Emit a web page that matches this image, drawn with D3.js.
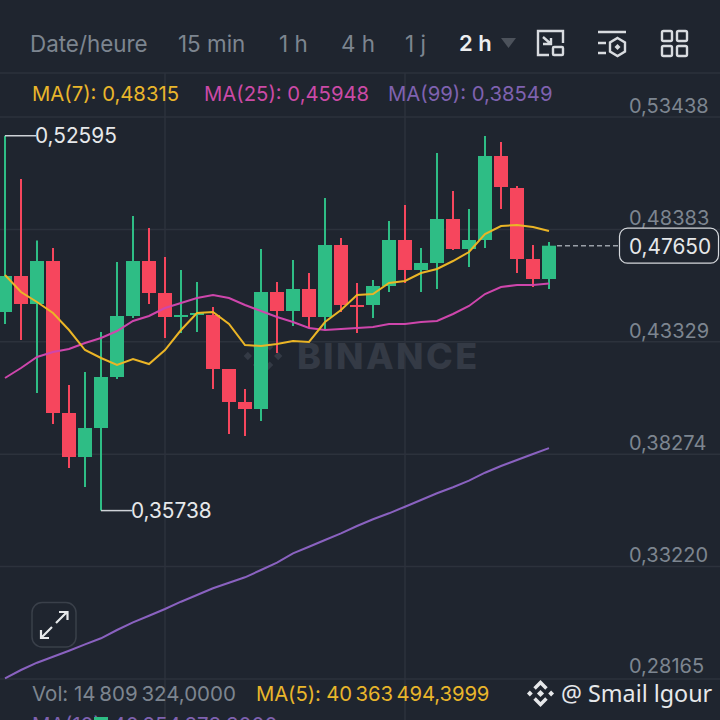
<!DOCTYPE html>
<html>
<head>
<meta charset="utf-8">
<script src="https://cdn.jsdelivr.net/npm/d3@7"></script>
<style>
html, body { margin: 0; padding: 0; background: #1f252f; }
svg { display: block; font-family: Inter, "Noto Sans", sans-serif; }
</style>
</head>
<body>
<div id="chart"></div>
<script>
//candle values, oldest first
var opens = [0.44669, 0.46288, 0.45029, 0.46962, 0.40127, 0.38148, 0.39452, 0.41746, 0.44489, 0.46962, 0.45523, 0.44444, 0.44534, 0.44534, 0.42106, 0.40622, 0.40307, 0.45568, 0.44714, 0.45703, 0.44444, 0.47682, 0.44984, 0.44984, 0.45838, 0.47907, 0.46558, 0.46872, 0.48851, 0.47502, 0.47907, 0.51684, 0.50245, 0.47052, 0.46153];
var closes = [0.46288, 0.45029, 0.46962, 0.40127, 0.38148, 0.39452, 0.41746, 0.44489, 0.46962, 0.45523, 0.44444, 0.44534, 0.44624, 0.42106, 0.40622, 0.40307, 0.45568, 0.44714, 0.45703, 0.44444, 0.47682, 0.44984, 0.44894, 0.45838, 0.47907, 0.46558, 0.46872, 0.48851, 0.47502, 0.47907, 0.51684, 0.50290, 0.47052, 0.46153, 0.47650];
var highs = [0.52595, 0.50650, 0.47884, 0.47547, 0.41386, 0.41971, 0.43769, 0.46917, 0.48986, 0.48446, 0.47142, 0.46558, 0.46018, 0.44894, 0.42106, 0.41206, 0.47502, 0.46018, 0.47007, 0.46423, 0.49795, 0.47997, 0.45973, 0.46108, 0.48761, 0.49481, 0.47547, 0.51819, 0.50110, 0.49301, 0.52584, 0.52314, 0.50335, 0.47682, 0.47817];
var lows = [0.44129, 0.43410, 0.41026, 0.39632, 0.37654, 0.36799, 0.35738, 0.41656, 0.44399, 0.45029, 0.43500, 0.43724, 0.43769, 0.41206, 0.39183, 0.39093, 0.39767, 0.42825, 0.44039, 0.43949, 0.43859, 0.44669, 0.43724, 0.44399, 0.45568, 0.45973, 0.45568, 0.45703, 0.47457, 0.46692, 0.47547, 0.49301, 0.46423, 0.45793, 0.45703];

//moving averages
var ma7 = [0.46333, 0.45568, 0.45119, 0.44624, 0.43859, 0.42960, 0.42600, 0.42285, 0.42555, 0.42330, 0.42960, 0.43859, 0.44624, 0.44669, 0.44129, 0.43185, 0.43140, 0.43230, 0.43365, 0.43320, 0.44219, 0.44759, 0.45433, 0.45478, 0.45973, 0.46063, 0.46423, 0.46603, 0.46962, 0.47367, 0.48177, 0.48536, 0.48581, 0.48491, 0.48315];
var ma25 = [0.41701, 0.42151, 0.42645, 0.42870, 0.43005, 0.43275, 0.43500, 0.43814, 0.44264, 0.44489, 0.44849, 0.45074, 0.45298, 0.45433, 0.45298, 0.44984, 0.44714, 0.44444, 0.44219, 0.43949, 0.43859, 0.43904, 0.43949, 0.43994, 0.44129, 0.44129, 0.44219, 0.44264, 0.44579, 0.44939, 0.45478, 0.45793, 0.45883, 0.45883, 0.45948];
var ma99 = [0.28196, 0.28570, 0.28898, 0.29168, 0.29438, 0.29725, 0.29995, 0.30368, 0.30715, 0.31011, 0.31313, 0.31641, 0.31942, 0.32244, 0.32495, 0.32738, 0.33067, 0.33395, 0.33818, 0.34114, 0.34416, 0.34717, 0.35045, 0.35347, 0.35616, 0.35913, 0.36214, 0.36516, 0.36786, 0.37082, 0.37442, 0.37744, 0.38013, 0.38283, 0.38549];

//axis ticks and labels
var priceTicks = [0.53438, 0.48383, 0.43329, 0.38274, 0.33220, 0.28165];
var timeTicks = [10, 25];
var lastPrice = 0.47650;
var maxPoint = { index: 0, price: 0.52595 };
var minPoint = { index: 6, price: 0.35738 };
var tabs = [["Date/heure", 30], ["15 min", 178], ["1 h", 279], ["4 h", 341], ["1 j", 405]];
var maLabels = [["MA(7): 0,48315", 32, "#e9b62b"], ["MA(25): 0,45948", 204, "#cb4aa6"], ["MA(99): 0,38549", 388, "#7f62b0"]];

//colours
var bg = "#1f252f", grid = "#2c323c", green = "#2ebd85", red = "#f6465d";
var grey = "#7d8590", light = "#e6e8ea";

var svg = d3.select("#chart").append("svg")
    .attr("width", 720)
    .attr("height", 720);

svg.append("rect").attr("width", 720).attr("height", 720).attr("fill", bg);

//scales
var x = d3.scaleLinear().domain([0, 34]).range([5, 549]);
var y = d3.scaleLinear().domain([0.28165, 0.53438]).range([679, 117]);
var comma = d => d.toFixed(5).replace(".", ",");

//binance mark: centre diamond, side diamonds, top and bottom chevrons
function binanceLogo(g, cx, cy, s) {
    var d = (px, py, r) => `M${cx+px*s} ${cy+py*s-r*s}L${cx+px*s+r*s} ${cy+py*s}L${cx+px*s} ${cy+py*s+r*s}L${cx+px*s-r*s} ${cy+py*s}Z`;
    g.append("path").attr("d", d(0, 0, 3.2));
    g.append("path").attr("d", d(-9.5, 0, 2.6));
    g.append("path").attr("d", d(9.5, 0, 2.6));
    var chev = sign => `M${cx} ${cy+sign*12*s}L${cx+6.4*s} ${cy+sign*5.6*s}L${cx+4.2*s} ${cy+sign*3.4*s}L${cx} ${cy+sign*7.6*s}L${cx-4.2*s} ${cy+sign*3.4*s}L${cx-6.4*s} ${cy+sign*5.6*s}Z`;
    g.append("path").attr("d", chev(-1));
    g.append("path").attr("d", chev(1));
}

//grid
svg.append("line").attr("x1", 0).attr("x2", 720).attr("y1", 73).attr("y2", 73).attr("stroke", grid).attr("stroke-width", 1.5);

svg.append("g").selectAll("line")
    .data(priceTicks)
    .enter()
    .append("line")
    .attr("x1", 0)
    .attr("x2", 720)
    .attr("y1", d => y(d))
    .attr("y2", d => y(d))
    .attr("stroke", grid)
    .attr("stroke-width", 1.5);

svg.append("g").selectAll("line")
    .data(timeTicks)
    .enter()
    .append("line")
    .attr("x1", d => x(d))
    .attr("x2", d => x(d))
    .attr("y1", 73)
    .attr("y2", 720)
    .attr("stroke", grid)
    .attr("stroke-width", 1.5);

//watermark
var mark = svg.append("g").attr("fill", "#343a45");
binanceLogo(mark, 263, 356, 1.6);
mark.append("text")
    .attr("x", 297)
    .attr("y", 369)
    .attr("font-size", 36)
    .attr("font-weight", 800)
    .attr("letter-spacing", 2.4)
    .text("BINANCE");

//price axis, labels sit above their grid line
var priceAxis = d3.axisRight(y).tickValues(priceTicks).tickFormat(comma).tickSize(0).tickPadding(0);
var axisG = svg.append("g").attr("transform", "translate(629,-11)").call(priceAxis);
axisG.select(".domain").remove();
axisG.selectAll("text")
    .attr("font-size", 20)
    .attr("fill", grey)
    .attr("font-family", "Inter")
    .attr("transform", d => d == priceTicks[5] ? "translate(0,-2)" : null);

//candles
var candles = d3.range(opens.length);
var candle = svg.append("g").selectAll("g")
    .data(candles)
    .enter()
    .append("g")
    .attr("fill", i => closes[i] >= opens[i] ? green : red)
    .attr("stroke", i => closes[i] >= opens[i] ? green : red);

candle.append("line")
    .attr("x1", i => x(i))
    .attr("x2", i => x(i))
    .attr("y1", i => y(highs[i]))
    .attr("y2", i => y(lows[i]))
    .attr("stroke-width", 2);

candle.append("rect")
    .attr("x", i => x(i) - 7)
    .attr("width", 14)
    .attr("y", i => y(Math.max(opens[i], closes[i])))
    .attr("height", i => Math.max(2, Math.abs(y(opens[i]) - y(closes[i]))))
    .attr("stroke", "none");

//moving average lines
var line = d3.line().x((d, i) => x(i)).y(d => y(d));
[[ma99, "#8a62c0"], [ma25, "#ce46ac"], [ma7, "#ebb526"]].forEach(function(s) {
    svg.append("path")
        .attr("d", line(s[0]))
        .attr("fill", "none")
        .attr("stroke", s[1])
        .attr("stroke-width", 2);
});

//high and low markers
[maxPoint, minPoint].forEach(function(p) {
    svg.append("line")
        .attr("x1", x(p.index))
        .attr("x2", x(p.index) + 31)
        .attr("y1", y(p.price))
        .attr("y2", y(p.price))
        .attr("stroke", "#cfd3d8")
        .attr("stroke-width", 1.5);
    svg.append("text")
        .attr("x", x(p.index) + 30)
        .attr("y", y(p.price) + 7.5)
        .attr("font-size", 20.8)
        .attr("fill", light)
        .text(comma(p.price));
});

//last price
svg.append("line")
    .attr("x1", x(34) + 8)
    .attr("x2", 619)
    .attr("y1", y(lastPrice))
    .attr("y2", y(lastPrice))
    .attr("stroke", "#9aa0a8")
    .attr("stroke-width", 1.5)
    .attr("stroke-dasharray", "5 3");
svg.append("rect")
    .attr("x", 619.5)
    .attr("y", y(lastPrice) - 17.5)
    .attr("width", 99)
    .attr("height", 35)
    .attr("rx", 8)
    .attr("fill", bg)
    .attr("stroke", "#d5d8dc")
    .attr("stroke-width", 1.2);
svg.append("text")
    .attr("x", 629)
    .attr("y", y(lastPrice) + 8)
    .attr("font-size", 20.8)
    .attr("fill", light)
    .text(comma(lastPrice));

//header tabs
svg.append("g").selectAll("text")
    .data(tabs)
    .enter()
    .append("text")
    .attr("x", d => d[1])
    .attr("y", 52)
    .attr("font-size", 22.4)
    .attr("fill", grey)
    .text(d => d[0]);

svg.append("text").attr("x", 459).attr("y", 51).attr("font-size", 22).attr("font-weight", 600).attr("fill", "#eceef0").text("2 h");
svg.append("path").attr("d", "M501 38L516 38L508.5 48Z").attr("fill", "#4c525b");

//header icons
var icons = svg.append("g").attr("fill", "none").attr("stroke", "#d8dbdf").attr("stroke-width", 2.4);
icons.append("path").attr("d", "M549 55H538V31H563V43M543 37L551 44M551 38V44H543");
icons.append("rect").attr("x", 553).attr("y", 47).attr("width", 10).attr("height", 8).attr("rx", 1);
icons.append("path").attr("d", "M598 32H626M598 43H606M598 53H606M617.5 38L625 42.5V51.5L617.5 56L610 51.5V42.5Z");
icons.append("path").attr("d", "M617.5 44L620.5 47L617.5 50L614.5 47Z").attr("fill", "#d8dbdf").attr("stroke", "none");
[[662, 31], [677, 31], [662, 46], [677, 46]].forEach(function(c) {
    icons.append("rect").attr("x", c[0]).attr("y", c[1]).attr("width", 10).attr("height", 10).attr("rx", 1.5);
});

//MA legend
svg.append("g").selectAll("text")
    .data(maLabels)
    .enter()
    .append("text")
    .attr("x", d => d[1])
    .attr("y", 101)
    .attr("font-size", 20.3)
    .attr("fill", d => d[2])
    .text(d => d[0]);

//expand button
svg.append("rect")
    .attr("x", 32).attr("y", 602.5).attr("width", 44).attr("height", 44.5).attr("rx", 10)
    .attr("fill", "none").attr("stroke", "#3a404a").attr("stroke-width", 1.5);
svg.append("path")
    .attr("d", "M56 623L67 612M59 612H67.5V620M52 627L41 638M41 630V638H49")
    .attr("fill", "none")
    .attr("stroke", "#e6e8ea")
    .attr("stroke-width", 2.2);

//volume row, groups split with a narrow space
svg.append("text").attr("x", 32).attr("y", 701).attr("font-size", 20.5).attr("fill", grey).text("Vol: 14\u202f809\u202f324,0000");
svg.append("text").attr("x", 256).attr("y", 701).attr("font-size", 20.3).attr("letter-spacing", -0.1).attr("fill", "#e9b62b").text("MA(5): 40\u202f363\u202f494,3999");
svg.append("text").attr("x", 32).attr("y", 732).attr("font-size", 20.5).attr("fill", "#7f62b0").text("MA(10): 40\u202f254\u202f878,3000");
svg.append("rect").attr("x", 94).attr("y", 717).attr("width", 14).attr("height", 3).attr("fill", green);

//credit
var logo = svg.append("g").attr("fill", "#e6e8ea");
binanceLogo(logo, 540.5, 693.5, 1.12);
svg.append("text").attr("x", 561).attr("y", 702).attr("font-size", 23.3).attr("font-family", "Noto Sans").attr("fill", "#e6e8ea").text("@ Smail lgour");
</script>
</body>
</html>
